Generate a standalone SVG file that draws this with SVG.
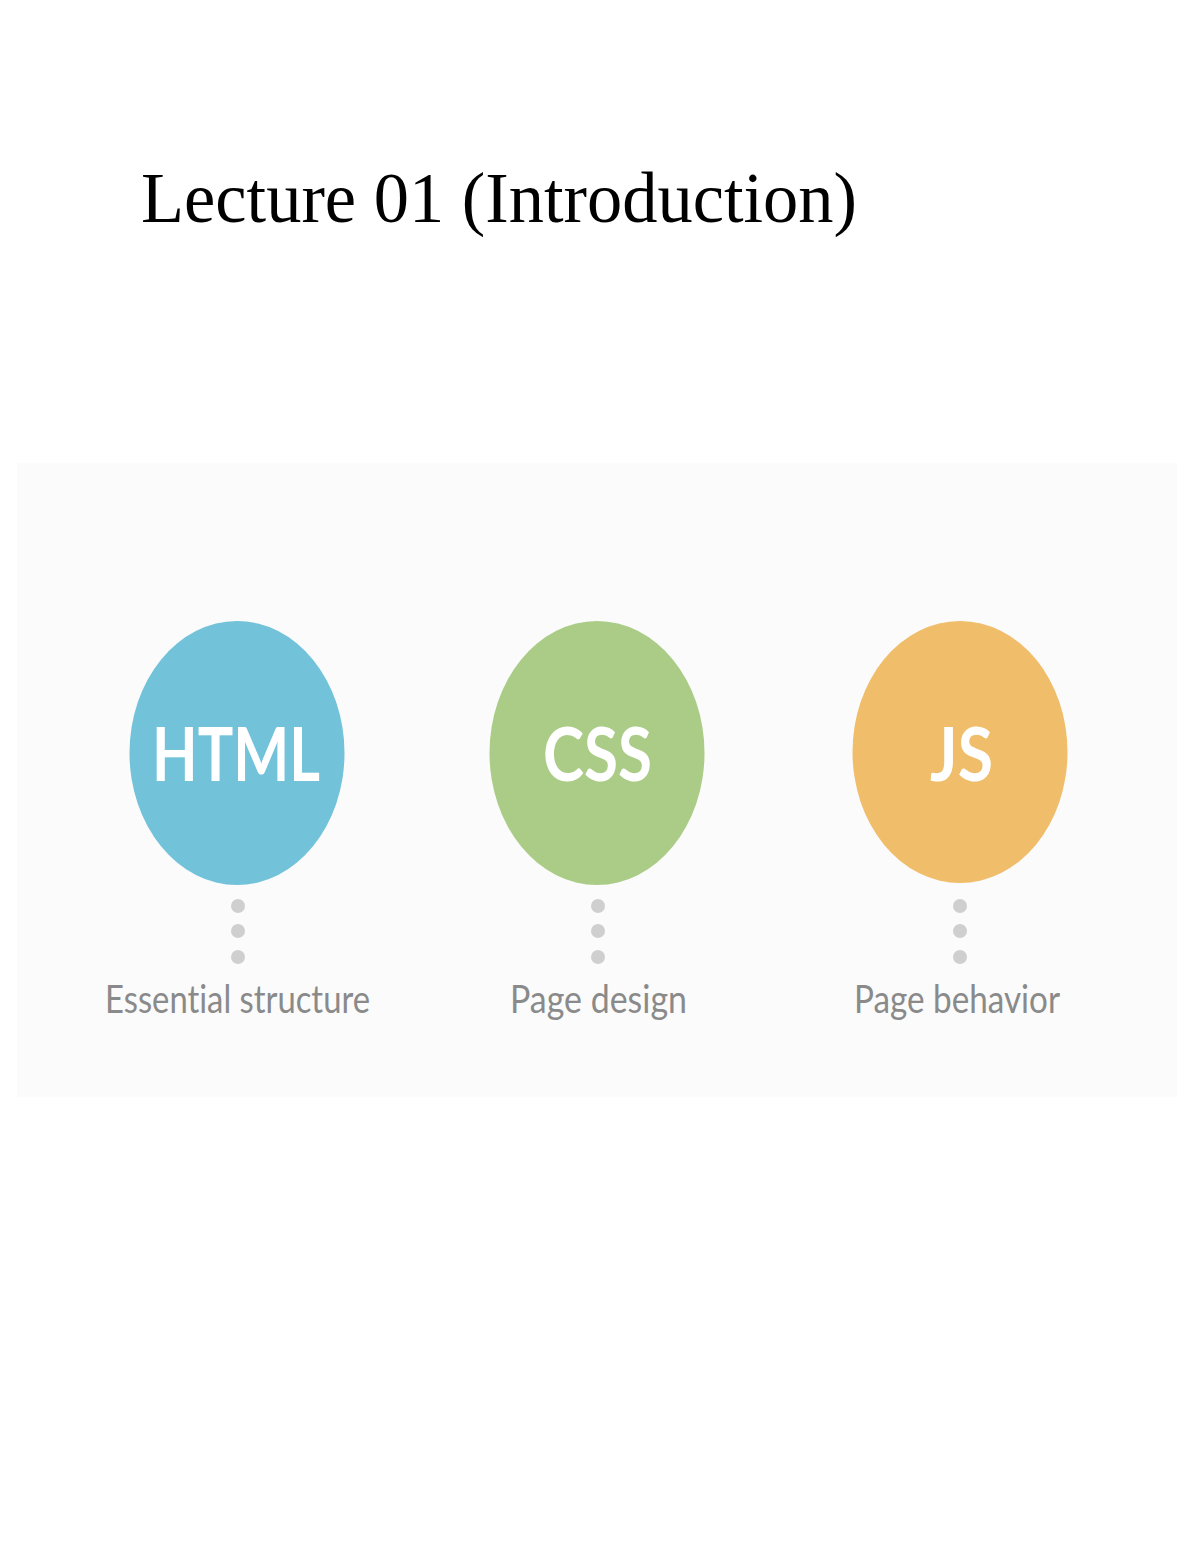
<svg xmlns="http://www.w3.org/2000/svg" width="1200" height="1553" viewBox="0 0 1200 1553">
<style>
.title{font-family:"Liberation Serif","Times New Roman",serif;font-size:71px;fill:#000}
.badge{font-family:Lato,"Open Sans","Liberation Sans",sans-serif;font-weight:700;font-size:74px;fill:#ffffff}
.label{font-family:Lato,"Open Sans","Liberation Sans",sans-serif;font-size:38px;fill:#8a8a8a;font-variant-ligatures:none}
.dot{fill:#cfcfcf}
</style>
<rect x="0" y="0" width="1200" height="1553" fill="#ffffff"/>
<text class="title" x="141" y="222" textLength="716" lengthAdjust="spacingAndGlyphs">Lecture 01 (Introduction)</text>
<rect id="panel" x="17" y="463" width="1160" height="634" fill="#fbfbfb"/>
<g id="connectors">
<circle class="dot" cx="238" cy="906" r="7"/>
<circle class="dot" cx="238" cy="931" r="7"/>
<circle class="dot" cx="238" cy="957" r="7"/>
<circle class="dot" cx="598" cy="906" r="7"/>
<circle class="dot" cx="598" cy="931" r="7"/>
<circle class="dot" cx="598" cy="957" r="7"/>
<circle class="dot" cx="960" cy="906" r="7"/>
<circle class="dot" cx="960" cy="931" r="7"/>
<circle class="dot" cx="960" cy="957" r="7"/>
</g>
<g id="html">
<ellipse cx="237" cy="753" rx="107.5" ry="132" fill="#72c2da"/>
<text class="badge" x="152" y="781" textLength="168" lengthAdjust="spacingAndGlyphs">HTML</text>
<text class="label" x="105" y="1013" textLength="265" lengthAdjust="spacingAndGlyphs">Essential structure</text>
</g>
<g id="css">
<ellipse cx="597" cy="753" rx="107.5" ry="132" fill="#abcc86"/>
<text class="badge" x="543" y="781" textLength="109" lengthAdjust="spacingAndGlyphs">CSS</text>
<text class="label" x="510" y="1013" textLength="177" lengthAdjust="spacingAndGlyphs">Page design</text>
</g>
<g id="js">
<ellipse cx="960" cy="752" rx="107.5" ry="131" fill="#f0bd6a"/>
<text class="badge" x="930" y="781" textLength="63" lengthAdjust="spacingAndGlyphs">JS</text>
<text class="label" x="854" y="1013" textLength="206" lengthAdjust="spacingAndGlyphs">Page behavior</text>
</g>
</svg>
